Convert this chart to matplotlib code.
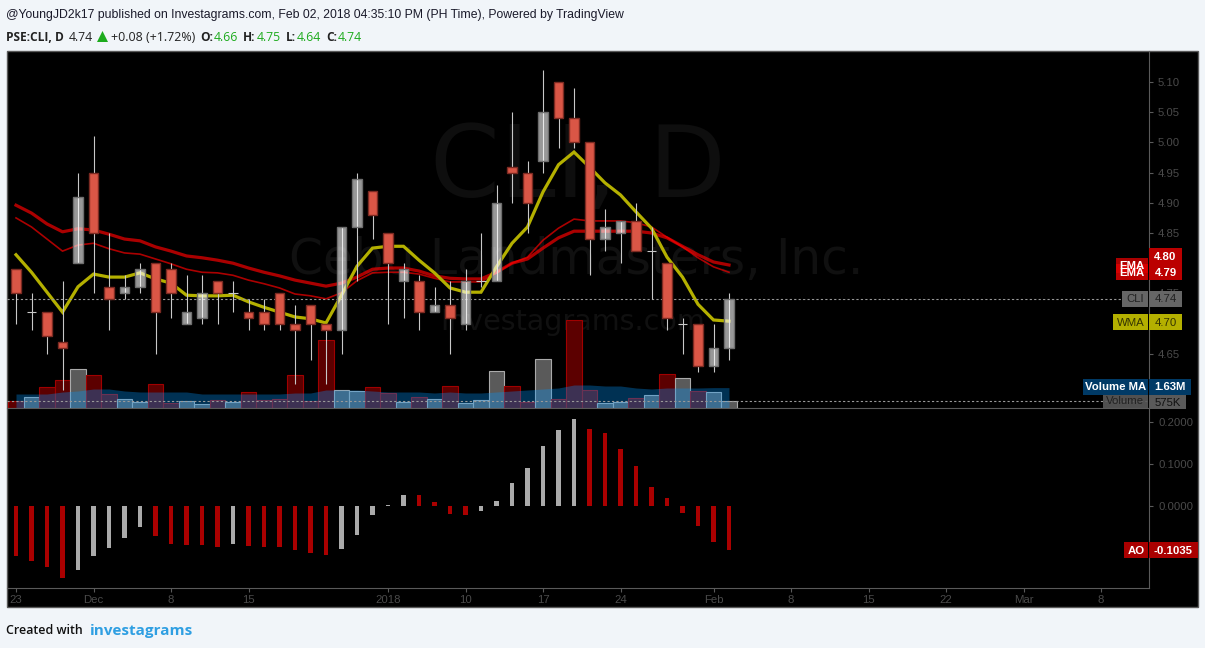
import matplotlib
matplotlib.use("Agg")
import matplotlib.pyplot as plt
from matplotlib.patches import Rectangle, Polygon
import numpy as np

# daily bars, PSE:CLI
opens = [4.79, 4.72, 4.72, 4.67, 4.80, 4.95, 4.76, 4.75, 4.76, 4.80, 4.79, 4.70, 4.71, 4.77, 4.75, 4.72,
         4.72, 4.75, 4.70, 4.73, 4.70, 4.69, 4.86, 4.92, 4.85, 4.77, 4.77, 4.72, 4.73, 4.70, 4.77, 4.77,
         4.96, 4.95, 4.97, 5.10, 5.04, 5.00, 4.84, 4.85, 4.87, 4.82, 4.80, 4.70, 4.70, 4.63, 4.66]
highs = [4.79, 4.75, 4.72, 4.77, 4.95, 5.01, 4.85, 4.78, 4.80, 4.80, 4.80, 4.78, 4.78, 4.77, 4.77, 4.74,
         4.74, 4.75, 4.73, 4.73, 4.70, 4.86, 4.95, 4.92, 4.85, 4.80, 4.78, 4.76, 4.77, 4.79, 4.85, 4.93,
         5.05, 4.97, 5.12, 5.10, 5.09, 5.00, 4.89, 4.87, 4.90, 4.86, 4.80, 4.71, 4.70, 4.70, 4.75]
lows = [4.70, 4.69, 4.65, 4.59, 4.80, 4.75, 4.69, 4.74, 4.75, 4.65, 4.71, 4.70, 4.70, 4.70, 4.72, 4.69,
        4.69, 4.69, 4.60, 4.64, 4.60, 4.65, 4.77, 4.84, 4.70, 4.71, 4.69, 4.72, 4.65, 4.69, 4.76, 4.77,
        4.90, 4.85, 4.95, 4.99, 4.99, 4.78, 4.82, 4.80, 4.82, 4.74, 4.69, 4.65, 4.62, 4.62, 4.64]
closes = [4.75, 4.72, 4.68, 4.66, 4.91, 4.85, 4.74, 4.76, 4.79, 4.72, 4.75, 4.72, 4.75, 4.75, 4.75, 4.71,
          4.70, 4.70, 4.69, 4.70, 4.69, 4.86, 4.94, 4.88, 4.80, 4.79, 4.72, 4.73, 4.71, 4.77, 4.77, 4.90,
          4.95, 4.90, 5.05, 5.04, 5.00, 4.84, 4.86, 4.87, 4.82, 4.82, 4.71, 4.70, 4.63, 4.66, 4.74]

wma = [4.814, 4.785, 4.752, 4.719, 4.761, 4.782, 4.777, 4.777, 4.784, 4.774, 4.767, 4.747, 4.746, 4.746, 4.747, 4.736,
       4.727, 4.719, 4.711, 4.708, 4.701, 4.747, 4.795, 4.825, 4.828, 4.828, 4.805, 4.784, 4.759, 4.752, 4.752, 4.794,
       4.833, 4.860, 4.918, 4.963, 4.984, 4.959, 4.933, 4.913, 4.885, 4.858, 4.810, 4.777, 4.732, 4.706, 4.704]
ema_slow = [4.896, 4.883, 4.865, 4.852, 4.857, 4.855, 4.848, 4.840, 4.837, 4.827, 4.820, 4.812, 4.809, 4.805, 4.800, 4.792,
            4.785, 4.779, 4.772, 4.767, 4.762, 4.767, 4.777, 4.790, 4.792, 4.792, 4.787, 4.779, 4.775, 4.774, 4.774, 4.785,
            4.800, 4.807, 4.825, 4.842, 4.853, 4.853, 4.853, 4.853, 4.853, 4.850, 4.842, 4.828, 4.814, 4.802, 4.797]
ema_fast = [4.875, 4.860, 4.840, 4.820, 4.830, 4.833, 4.824, 4.817, 4.815, 4.807, 4.799, 4.790, 4.785, 4.784, 4.780, 4.772,
            4.766, 4.759, 4.749, 4.746, 4.741, 4.751, 4.771, 4.784, 4.785, 4.785, 4.782, 4.775, 4.769, 4.769, 4.769, 4.784,
            4.800, 4.810, 4.838, 4.858, 4.873, 4.870, 4.870, 4.870, 4.867, 4.860, 4.843, 4.827, 4.809, 4.794, 4.785]

# volume in millions
volume = [0.56, 0.88, 1.68, 2.24, 3.12, 2.64, 1.12, 0.72, 0.48, 1.92, 0.40, 0.56, 0.32, 0.64, 0.48, 1.28,
          0.64, 0.72, 2.64, 0.56, 5.44, 1.44, 1.36, 1.68, 1.20, 0.48, 0.88, 0.72, 1.76, 0.40, 0.64, 2.96,
          1.76, 0.48, 3.92, 0.72, 7.04, 1.44, 0.40, 0.48, 0.80, 1.04, 2.72, 2.40, 1.36, 1.28, 0.575]
volume_ma = [1.12, 1.12, 1.12, 1.28, 1.36, 1.52, 1.52, 1.36, 1.28, 1.28, 1.28, 1.28, 1.12, 1.12, 1.12, 1.12,
             1.12, 1.12, 1.20, 1.20, 1.44, 1.44, 1.44, 1.36, 1.28, 1.28, 1.28, 1.20, 1.28, 1.20, 1.20, 1.28,
             1.36, 1.44, 1.52, 1.60, 1.84, 1.84, 1.76, 1.76, 1.60, 1.52, 1.60, 1.60, 1.60, 1.63, 1.63]

# awesome oscillator
ao = [-0.1188, -0.1306, -0.1449, -0.1710, -0.1520, -0.1188, -0.0998, -0.0760, -0.0500, -0.0713, -0.0903, -0.0926,
      -0.0926, -0.0974, -0.0903, -0.0950, -0.0974, -0.0974, -0.1045, -0.1116, -0.1164, -0.1021, -0.0689, -0.0214,
      0.0024, 0.0261, 0.0261, 0.0095, -0.0190, -0.0214, -0.0119, 0.0119, 0.0546, 0.0903, 0.1425, 0.1805, 0.2067,
      0.1829, 0.1734, 0.1354, 0.0950, 0.0451, 0.0190, -0.0166, -0.0475, -0.0855, -0.1035]

price_ticks = [4.60, 4.65, 4.70, 4.75, 4.80, 4.85, 4.90, 4.95, 5.00, 5.05, 5.10]
ao_ticks = [0.0, 0.1, 0.2]
time_ticks = [0, 5, 10, 15, 24, 29, 34, 39, 45, 50, 55, 60, 65, 70]
time_labels = ['23', 'Dec', '8', '15', '2018', '10', '17', '24', 'Feb', '8', '15', '22', 'Mar', '8']

W, H = 1205, 648
BG = '#f1f5f9'
AXIS = '#5a5a5a'
TICK = '#4a4a4a'
RED = '#aa0000'
FONT = 'Liberation Sans'


def pane(x0, y0, x1, y1):
    # axes from pixel edges, y counted from the top
    return fig.add_axes([x0 / W, 1 - y1 / H, (x1 - x0) / W, (y1 - y0) / H])


def tag(x0, x1, y0, y1, color, label, txt='white', alpha=1.0, bold=True, ha='center', size=8.2):
    over.add_patch(Rectangle((x0, y0), x1 - x0, y1 - y0, fc=color, ec='none', alpha=alpha))
    over.text((x0 + x1) / 2, (y0 + y1) / 2 + 0.5, label, color=txt, ha=ha, va='center', fontsize=size,
              fontweight='bold' if bold else 'normal', family=FONT)


fig = plt.figure(figsize=(W / 100, H / 100), dpi=100, facecolor=BG)

# page background, black chart box
under = fig.add_axes([0, 0, 1, 1], zorder=0)
under.set_xlim(0, W)
under.set_ylim(H, 0)
under.axis('off')
under.add_patch(Rectangle((6.5, 50.5), 1191.5, 556.5, fc='black', ec=AXIS, lw=1.0))

x = np.arange(len(closes))
up = np.array(closes) >= np.array(opens)
xlim = ((7 - 16) / 15.5, (1149 - 16) / 15.5)

# volume pane sits below the price pane, same pixels
ax_vol = pane(7, 51, 1149, 408)
ax_vol.set_zorder(1)
ax_vol.set_facecolor('none')
ax_vol.set_xlim(*xlim)
ax_vol.set_ylim(0, 357 * 0.08)
ax_vol.axis('off')

ax_vol.text(0.5, 0.667, 'CLI, D', transform=ax_vol.transAxes, ha='center', va='center',
            fontsize=72, color='#0e0e0e', family='DejaVu Sans', zorder=0)
ax_vol.text(0.498, 0.415, 'Cebu Landmasters, Inc.', transform=ax_vol.transAxes, ha='center', va='center',
            fontsize=35, color='#101010', family='DejaVu Sans', zorder=0)
ax_vol.text(0.4956, 0.24, 'Investagrams.com', transform=ax_vol.transAxes, ha='center', va='center',
            fontsize=20.5, color='#101010', family='DejaVu Sans', zorder=0)

ax_vol.bar(x, volume, width=1.0, color=['#5a5a5a' if u else '#5c0000' for u in up],
           edgecolor=['#aaaaaa' if u else '#a00000' for u in up], linewidth=0.8, zorder=2)
ax_vol.fill_between(x, 0, volume_ma, color='#0096ff', alpha=0.33, lw=0, zorder=3)
ax_vol.axhline(volume[-1], color='#999999', lw=0.8, ls=(0, (2, 2)), zorder=4)

# price pane
ax = pane(7, 51, 1149, 408)
ax.set_zorder(2)
ax.set_facecolor('none')
ax.set_xlim(*xlim)
ax.set_ylim(5.10 - 326 / 604, 5.10 + 31 / 604)
for s in ['top', 'left']:
    ax.spines[s].set_visible(False)
ax.spines['right'].set_color(AXIS)
ax.spines['bottom'].set_color(AXIS)
ax.set_xticks([])
ax.yaxis.tick_right()
ax.set_yticks(price_ticks)
ax.set_yticklabels(['%.2f' % p for p in price_ticks], family=FONT, fontsize=8.2, color=TICK)
ax.tick_params(axis='y', length=3, width=0.8, color=AXIS, pad=3.5)

ax.plot(x, ema_slow, color='#ff0000', alpha=0.67, lw=2.3, zorder=2, solid_joinstyle='round')
ax.plot(x, ema_fast, color='#ff0000', alpha=0.67, lw=1.2, zorder=2, solid_joinstyle='round')
ax.plot(x, wma, color='#b4b000', lw=2.3, zorder=3, solid_joinstyle='miter')
ax.axhline(closes[-1], color='#999999', lw=0.8, ls=(0, (2, 2)), zorder=3)

for i in x:
    o, h, l, c = opens[i], highs[i], lows[i], closes[i]
    ax.vlines(i, l, h, color='#c8c8c8', lw=0.8, zorder=4)
    if o == c:
        ax.hlines(o, i - 0.32, i + 0.32, color='#c8c8c8', lw=0.8, zorder=5)
    elif c > o:
        ax.bar(i, c - o, bottom=o, width=0.62, facecolor=(1, 1, 1, 0.6), edgecolor='#6e6e6e', linewidth=1.0, zorder=5)
    else:
        ax.bar(i, o - c, bottom=c, width=0.62, facecolor='#da5646', edgecolor='#7c2a22', linewidth=1.0, zorder=5)

# oscillator pane plus the time axis underneath
ax_ao = pane(7, 409, 1149, 588)
ax_ao.set_zorder(2)
ax_ao.set_facecolor('none')
ax_ao.set_xlim(*xlim)
ax_ao.set_ylim(-82 / 421, 97 / 421)
for s in ['top', 'left']:
    ax_ao.spines[s].set_visible(False)
ax_ao.spines['right'].set_color(AXIS)
ax_ao.spines['bottom'].set_color(AXIS)
ao_colors = [RED] + ['#aaaaaa' if b > a else RED for a, b in zip(ao[:-1], ao[1:])]
ax_ao.bar(x, ao, width=0.26, color=ao_colors)
ax_ao.yaxis.tick_right()
ax_ao.set_yticks(ao_ticks)
ax_ao.set_yticklabels(['%.4f' % t for t in ao_ticks], family=FONT, fontsize=8.2, color=TICK)
ax_ao.tick_params(axis='y', length=3, width=0.8, color=AXIS, pad=3.5)
ax_ao.set_xticks(time_ticks)
ax_ao.set_xticklabels(time_labels, family=FONT, fontsize=8.2, color=TICK)
ax_ao.tick_params(axis='x', length=3, width=0.8, color=AXIS, pad=2)

# everything in pixels from here: price tags, header, footer
over = fig.add_axes([0, 0, 1, 1], zorder=5)
over.set_xlim(0, W)
over.set_ylim(H, 0)
over.axis('off')

tag(1116, 1148, 258, 273, RED, 'EMA')
tag(1116, 1148, 264, 280, '#dd0000', 'EMA', alpha=0.85)
tag(1149, 1182, 248, 264, '#bb0000', '4.80')
tag(1149, 1182, 264, 280, '#bb0000', '4.79')
tag(1122, 1148, 291, 307, '#666666', 'CLI', txt='#222222', bold=False)
tag(1149, 1182, 291, 307, '#666666', '4.74', txt='#222222', bold=False)
tag(1113, 1148, 314, 330, '#b4b000', 'WMA', txt='#333300', bold=False)
tag(1149, 1182, 314, 330, '#b4b000', '4.70', txt='#333300', bold=False)
tag(1103, 1148, 393, 408, '#5a5a5a', 'Volume', txt='#222222', bold=False, alpha=0.9)
tag(1149, 1186, 395, 409, '#5a5a5a', '575K', txt='#111111', bold=False)
tag(1083, 1148, 379, 395, '#003a66', 'Volume MA')
tag(1149, 1191, 379, 395, '#003a66', '1.63M')
tag(1124, 1148, 542, 558, RED, 'AO')
tag(1149, 1198, 542, 558, RED, '-0.1035')

over.text(6, 15, '@YoungJD2k17 published on Investagrams.com, Feb 02, 2018 04:35:10 PM (PH Time), Powered by TradingView',
          family=FONT, fontsize=8.83, color='#1a1a2a', va='center')

GREEN = '#1dab1d'
HEAD = 'Open Sans'
over.text(6, 37.5, 'PSE:CLI, D', family=HEAD, fontweight='bold', fontsize=8.6, color='#222222', va='center')
over.text(69, 37.5, '4.74', family=HEAD, fontsize=8.8, color='#222222', va='center')
over.add_patch(Polygon([(97, 42), (108, 42), (102.5, 31)], fc=GREEN, ec='none'))
over.text(111, 37.5, '+0.08 (+1.72%)', family=HEAD, fontsize=8.9, color='#222222', va='center')
for lx, lab, vx, val in [(200, 'O:', 214, '4.66'), (243, 'H:', 257, '4.75'), (286, 'L:', 297, '4.64'), (326, 'C:', 338, '4.74')]:
    over.text(lx, 37.5, lab, family=HEAD, fontweight='bold', fontsize=8.6, color='#222222', va='center')
    over.text(vx, 37.5, val, family=HEAD, fontsize=8.8, color=GREEN, va='center')

over.text(6, 631, 'Created with', family=HEAD, fontsize=8.9, fontweight='semibold', color='#111111', va='center')
over.text(89.5, 631, 'investagrams', family=HEAD, fontsize=11, fontweight='bold', color='#2f9fe2', va='center')

fig.savefig('out.png', dpi=100, facecolor=BG)
